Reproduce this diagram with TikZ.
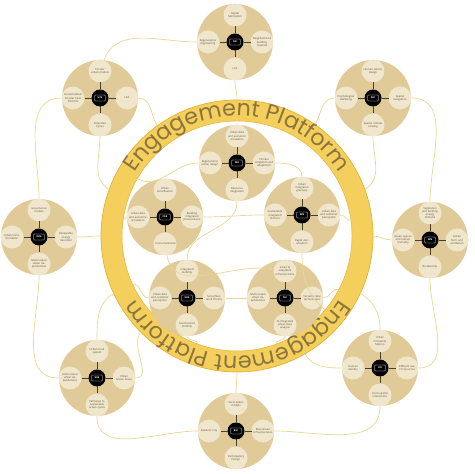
\documentclass[tikz,border=0pt]{standalone}
\usepackage{fontspec}
\setmainfont{Open Sans}
\newfontfamily\ringfont{Poppins}
\usetikzlibrary{positioning,decorations.text}

\definecolor{disc}{HTML}{E0CA98}
\definecolor{leafcol}{HTML}{F0E6CC}
\definecolor{leaftext}{HTML}{5E5240}
\definecolor{ringfill}{HTML}{F5CF5C}
\definecolor{ringedge}{HTML}{E2B232}
\definecolor{ringtext}{HTML}{8A7440}
\definecolor{wirecol}{HTML}{EAD792}
\definecolor{spokecol}{HTML}{4A3F2A}

% one topic cluster: name, position, code, top, right, bottom, left
\newcommand{\hub}[7]{%
  \node[hubdisc] (#1) at (#2) {};
  \node[core] (#1-c) at (#2) {};
  \node[tag] (#1-k) at (#2) {#3};
  \node[leaf, above=of #1-c] (#1-n) {#4};
  \node[leaf, right=of #1-c] (#1-e) {#5};
  \node[leaf, below=of #1-c] (#1-s) {#6};
  \node[leaf, left=of #1-c] (#1-w) {#7};
  \draw[spoke] (#1-c) -- (#1-n);
  \draw[spoke] (#1-c) -- (#1-e);
  \draw[spoke] (#1-c) -- (#1-s);
  \draw[spoke] (#1-c) -- (#1-w);
}

\begin{document}
\begin{tikzpicture}[
    x=0.3mm, y=0.3mm,
    node distance=2.1mm,
    hubdisc/.style={circle, fill=disc, minimum size=22.8mm, inner sep=0pt},
    core/.style={circle, fill=black, minimum size=5.1mm, inner sep=0pt, outer sep=0pt},
    tag/.style={draw=white, rounded corners=0.5pt, line width=0.25pt, text=white,
      font=\fontsize{2}{2}\selectfont\bfseries, inner sep=0.5pt,
      minimum width=3.1mm, minimum height=1.8mm},
    leaf/.style={circle, fill=leafcol, minimum size=6.9mm, inner sep=0pt, outer sep=0pt,
      text width=5.6mm, align=center, text=leaftext, font=\fontsize{2.3}{2.7}\selectfont},
    spoke/.style={draw=spokecol, line width=0.5pt},
    wire/.style={draw=wirecol, line width=0.6pt},
    rim/.style={circle, minimum size=#1, inner sep=0pt, outer sep=0pt},
    ringword/.style={decorate, decoration={text along path, text align=center,
      text={|\ringfont\fontsize{19}{19}\selectfont\color{ringtext}|Engagement Platform}}},
  ]
  \useasboundingbox (0,0) rectangle (474,474);

  % the platform ring
  \node[rim=81.6mm] (rimout) at (237,238) {};
  \node[rim=69mm] (rimin) at (237,238) {};
  \fill[ringfill, even odd rule] (rimout.center) circle[radius=136] circle[radius=115];
  \draw[ringedge, line width=0.6pt] (rimout.center) circle[radius=136];
  \draw[ringedge, line width=0.4pt] (rimout.center) circle[radius=115];
  \path[ringword] (rimout.center) ++(170:120) arc[start angle=170, end angle=10, radius=120];
  \path[ringword] (rimout.center) ++(-10:120) arc[start angle=-10, end angle=-170, radius=120];

  % outer clusters
  \hub{fab}{235,432}{DFI}{Digital fabrication}{Neighborhood building material}{LCA}{Regenerative Engineering}
  \hub{circ}{100,376}{UPS}{Circular urban models}{LCA}{Extended Cycles}{Decentralized Circular Flow Districts}
  \hub{hum}{373,376}{ASP}{Human-centric design}{Spatial navigation}{Spatial climate sensing}{Psychological wellbeing}
  \hub{gov}{39,237}{SUM}{Governance models}{Renewable energy transition}{Multi-scaled urban dependencies}{Urban transformation}
  \hub{veg}{430,234}{SEN}{Vegetation and building energy demand}{Urban form and ventilation}{Biodiversity}{Green spaces and human mortality}
  \hub{food}{97,96}{GRE}{Urban food system}{Urban Green Areas}{Pathways to sustainable urban cycles}{Multi-scaled urban dependencies}
  \hub{met}{380,106}{CIR}{Urban Circularity Metrics}{Efficient use of resources}{Socio-spatial interactions}{Human identity}
  \hub{blue}{236,43}{BGI}{Socio-Green models}{Blue-Green Infrastructures}{Participatory Design}{Resilient City}

  % inner clusters
  \hub{reg}{237,311}{SEA}{Urban data and economic simulation}{Climate mitigation and adaptation}{Resource integration}{Regenerative urban design}
  \hub{dens}{165,257}{PDE}{Urban densification}{Building integrated photovoltaics}{Instrumentation}{Urban data and economic simulation}
  \hub{green}{302,259}{SEN}{Urban integrated greenery}{Urban data and customer perception}{Rapid densification}{Sustainable integrated districts}
  \hub{mob}{187,176}{UDE}{Integrated mobility}{Social Network Theory}{AI-enhanced mobility}{Urban data and customer perception}
  \hub{smart}{285,176}{TEC}{Smart \& adaptable infrastructures}{Versatile data technologies}{AI-integrated urban data analysis}{Multi-scaled urban dependencies}

  % links between clusters and the ring
  \draw[wire] (fab-s) to[out=-90, in=90] (rimout.90);
  \draw[wire] (fab-w) to[out=180, in=70] (circ-n);
  \draw[wire] (circ-e) to[out=0, in=120] (rimout.126);
  \draw[wire] (circ-w) to[out=180, in=90] (gov-n);
  \draw[wire] (circ-s) to[out=-90, in=150] (rimout.160);
  \draw[wire] (hum-w) to[out=180, in=60] (rimout.55);
  \draw[wire] (hum-s) to[out=-90, in=30] (rimout.20);
  \draw[wire] (veg-n) to[out=90, in=0] (hum-e);
  \draw[wire] (veg-w) to[out=180, in=0] (rimout.0);
  \draw[wire] (veg-s) to[out=-90, in=0] (met-e);
  \draw[wire] (gov-e) to[out=0, in=180] (rimout.180);
  \draw[wire] (gov-s) to[out=-90, in=180] (food-w);
  \draw[wire] (food-n) to[out=90, in=-150] (rimout.205);
  \draw[wire] (food-e) to[out=0, in=-130] (rimout.225);
  \draw[wire] (food-s) to[out=-90, in=180] (blue-w);
  \draw[wire] (blue-n) to[out=90, in=-90] (rimout.270);
  \draw[wire] (blue-e) to[out=0, in=-90] (met-s);
  \draw[wire] (met-w) to[out=180, in=-60] (rimout.300);
  \draw[wire] (met-n) to[out=90, in=-30] (rimout.335);

  \draw[wire] (reg-w) to[out=180, in=-30] (rimin.150);
  \draw[wire] (reg-e) to[out=0, in=90] (green-n);
  \draw[wire] (reg-s) to[out=-90, in=90] (mob-n);
  \draw[wire] (dens-w) to[out=180, in=-8] (rimin.172);
  \draw[wire] (dens-e) to[out=0, in=180] (green-w);
  \draw[wire] (dens-s) to[out=-80, in=170] (smart-n);
  \draw[wire] (green-e) to[out=0, in=190] (rimin.8);
  \draw[wire] (green-s) to[out=-90, in=140] (rimin.320);
  \draw[wire] (mob-w) to[out=180, in=25] (rimin.205);
  \draw[wire] (mob-s) to[out=-90, in=70] (rimin.250);
  \draw[wire] (mob-e) -- (smart-w);
  \draw[wire] (smart-e) to[out=0, in=150] (rimin.332);
  \draw[wire] (smart-s) to[out=-90, in=110] (rimin.290);
\end{tikzpicture}
\end{document}
